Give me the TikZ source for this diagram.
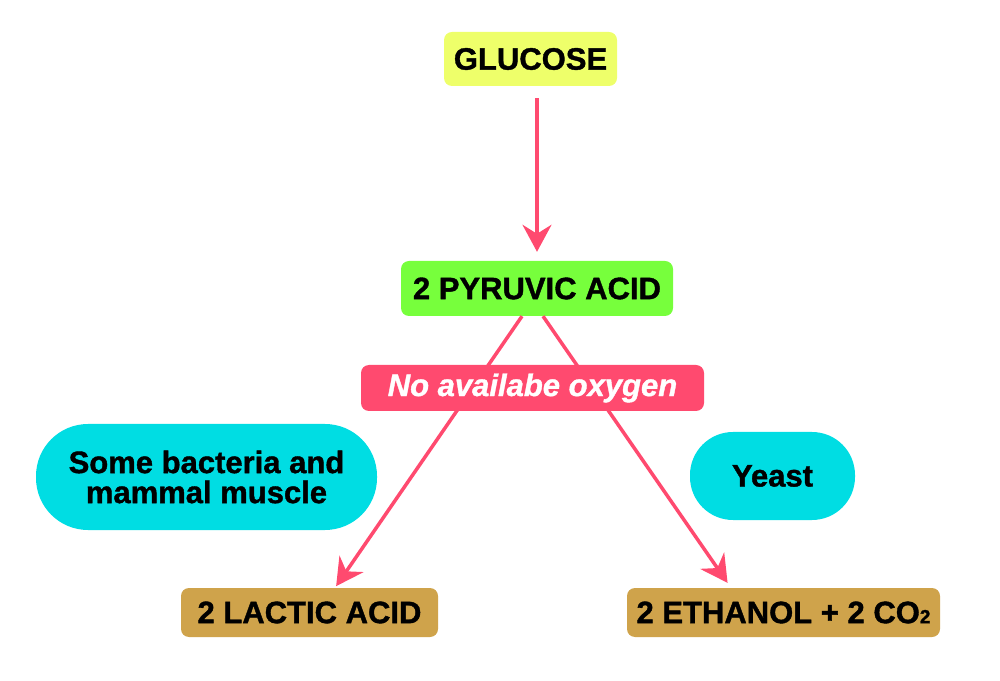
\documentclass[tikz,border=0pt]{standalone}
\usepackage{fontspec}
\setmainfont{Liberation Sans}[BoldFeatures={FakeBold=1.2}, BoldItalicFeatures={FakeBold=1.2}]
\usetikzlibrary{arrows.meta, positioning}
\definecolor{flowred}{RGB}{255,74,111}
\definecolor{sugar}{RGB}{238,255,106}
\definecolor{pyruvate}{RGB}{119,255,60}
\definecolor{organism}{RGB}{0,221,227}
\definecolor{product}{RGB}{207,163,75}
\begin{document}
\begin{tikzpicture}[x=1pt, y=1pt, every node/.style={font=\bfseries\fontsize{31}{30}\selectfont, inner sep=0pt, align=center, rounded corners=8pt}, stage/.style={fill=#1}, pill/.style={fill=organism, rounded corners=#1}, flow/.style={draw=flowred, line width=3.5pt, -{Stealth[length=27pt, width=29pt, inset=9pt]}}]
\useasboundingbox (0,0) rectangle (1000,680);
\node[stage=sugar, minimum width=173pt, minimum height=54pt] (glucose) at (530.5,621) {GLUCOSE};
\node[stage=pyruvate, minimum width=272pt, minimum height=55pt] (pyruvic) at (537,391.5) {2 PYRUVIC ACID};
\node[stage=product, minimum width=257pt, minimum height=49pt] (lactic) at (309.5,67.5) {2 LACTIC ACID};
\node[stage=product, minimum width=313pt, minimum height=49pt] (ethanol) at (783.5,67.5) {2 ETHANOL + 2 CO{\fontsize{19}{19}\selectfont 2}};
\node[pill=52pt, minimum width=341pt, minimum height=106pt] (bacteria) at (206.5,203) {Some bacteria and\\mammal muscle};
\node[pill=43pt, minimum width=165pt, minimum height=88pt] (yeast) at (772.5,204) {Yeast};
\draw[flow, shorten <=12pt, shorten >=9pt] (glucose.south -| pyruvic.north) -- (pyruvic.north);
\draw[flow, shorten >=2pt] ([xshift=-15pt]pyruvic.south) -- ([xshift=25.5pt]lactic.north);
\draw[flow, shorten >=6pt] ([xshift=6pt]pyruvic.south) -- ([xshift=-52.5pt]ethanol.north);
\node[stage=flowred, text=white, font=\bfseries\itshape\fontsize{31}{30}\selectfont, minimum width=343pt, minimum height=46pt] (oxygen) at (532.5,292) {No availabe oxygen};
\end{tikzpicture}
\end{document}
